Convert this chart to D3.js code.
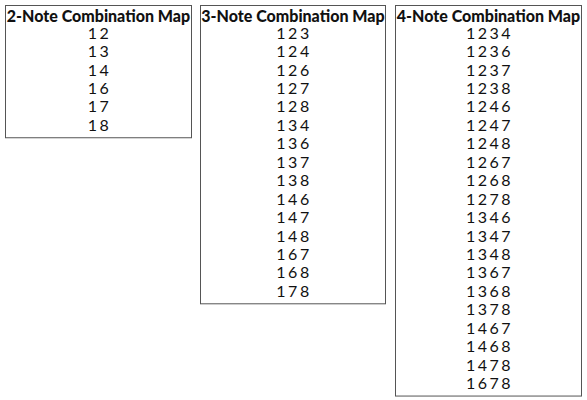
<!DOCTYPE html><html><head><meta charset="utf-8"><script src="https://cdn.jsdelivr.net/npm/d3@7"></script>
<style>body{margin:0;background:#fff}</style></head><body><svg id="c" width="587" height="400"></svg><script>
const titles=["2-Note Combination Map","3-Note Combination Map","4-Note Combination Map"];
const combos2=["12","13","14","16","17","18"];
const combos3=["123","124","126","127","128","134","136","137","138","146","147","148","167","168","178"];
const combos4=["1234","1236","1237","1238","1246","1247","1248","1267","1268","1278","1346","1347","1348","1367","1368","1378","1467","1468","1478","1678"];
const lists=[combos2,combos3,combos4];
const svg=d3.select("#c");
const xs=d3.scaleOrdinal().domain([0,1,2]).range([5,200,395]);
const widths=[186,185,186];
const rowH=18.45;
lists.forEach((list,i)=>{
  const g=svg.append("g").attr("transform",`translate(${xs(i)},5)`);
  const y=d3.scaleLinear().domain([0,1]).range([28,28+rowH]);
  const h=y(list.length-1)+12;
  g.append("rect").attr("x",0.5).attr("y",0.5).attr("width",widths[i]).attr("height",h).attr("fill","#fff").attr("stroke","#555").attr("stroke-width",1);
  g.append("text").attr("x",widths[i]/2+0.5).attr("y",17).attr("text-anchor","middle").attr("font-family","Lato").attr("font-weight","900").attr("font-size",16).attr("fill","#111").text(titles[i]);
  g.selectAll("text.v").data(list).join("text").attr("class","v").attr("x",widths[i]/2+1.5).attr("y",(d,k)=>y(k)).attr("dy","0.35em").attr("text-anchor","middle").attr("font-family","Lato").attr("font-size",16).attr("letter-spacing","2.5px").attr("fill","#111").text(d=>d);
});
</script></body></html>
